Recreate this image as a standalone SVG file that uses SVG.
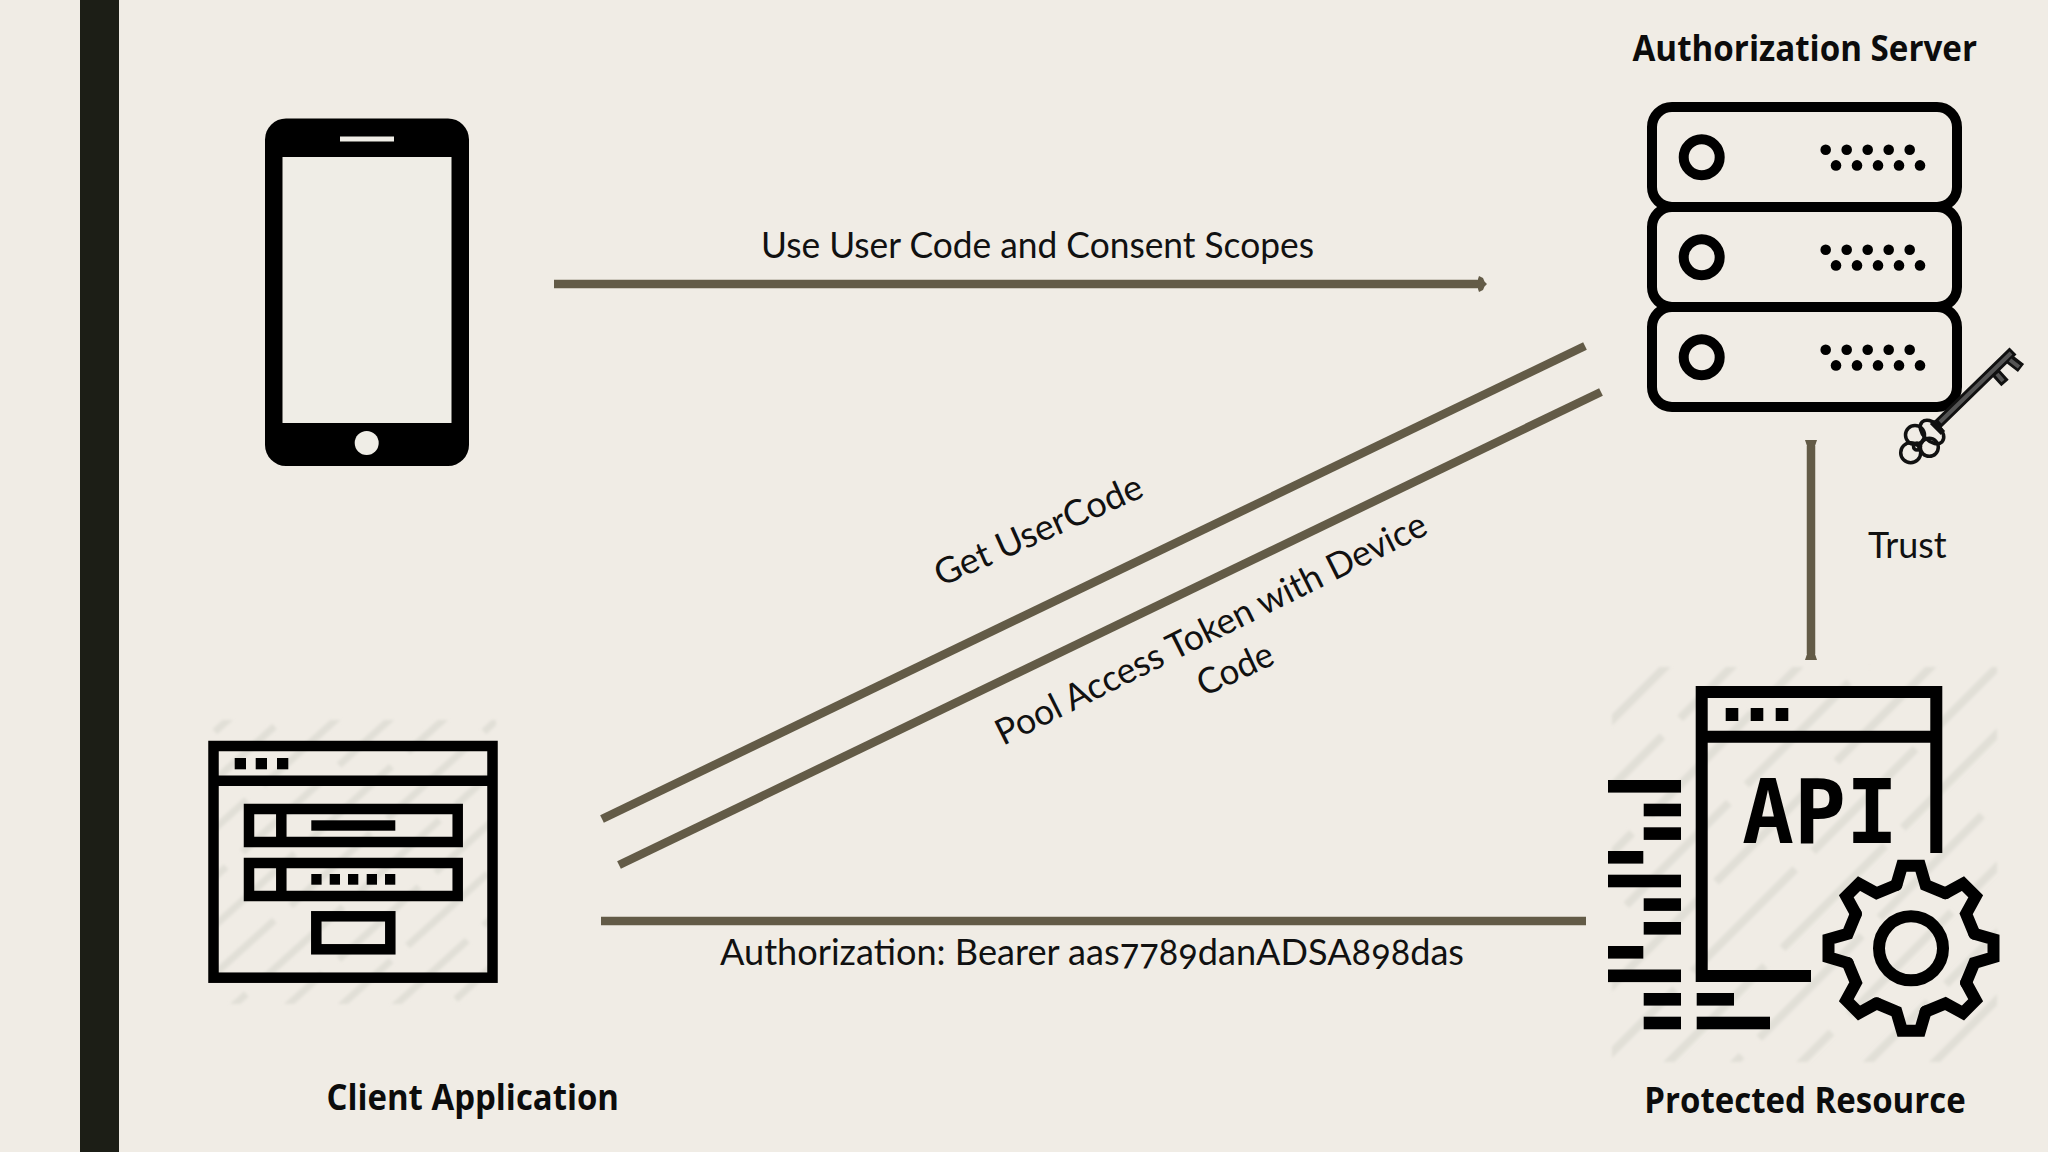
<svg xmlns="http://www.w3.org/2000/svg" width="2048" height="1152" viewBox="0 0 2048 1152">
<defs>
<style>
.frame{fill:none;stroke:#000;stroke-width:10.5;stroke-linejoin:miter}
.sframe{fill:none;stroke:#000;stroke-width:10}
.ring{fill:none;stroke:#000;stroke-width:10}
.conn{fill:none;stroke:#635b47;stroke-width:8.5}
.lbl{font-family:"Lato","Open Sans",sans-serif;font-size:36px;fill:#111;font-variant-numeric:oldstyle-nums}
.ttl{font-family:"Open Sans","Noto Sans",sans-serif;font-size:35px;font-weight:700;fill:#0c0c0c}
.kb{fill:none;stroke:#111;stroke-width:3.5}
</style>
<pattern id="hatchA" width="130" height="72" patternUnits="userSpaceOnUse" patternTransform="rotate(-42)">
<rect x="0" y="0" width="108" height="7" fill="#e1dfd7"/><rect x="60" y="36" width="108" height="7" fill="#e1dfd7"/><rect x="-70" y="36" width="108" height="7" fill="#e1dfd7"/>
</pattern>
<pattern id="hatchB" width="170" height="94" patternUnits="userSpaceOnUse" patternTransform="rotate(-45)">
<rect x="0" y="0" width="145" height="8" fill="#e1dfd7"/><rect x="80" y="47" width="145" height="8" fill="#e1dfd7"/><rect x="-90" y="47" width="145" height="8" fill="#e1dfd7"/>
</pattern>
<filter id="soft" x="-5%" y="-5%" width="110%" height="110%"><feGaussianBlur stdDeviation="1.6"/></filter>
<marker id="star" markerUnits="userSpaceOnUse" markerWidth="14" markerHeight="20" refX="2" refY="10" orient="auto"><path d="M0,5 L1,2 L5,4 L6.5,7.5 L9,10 L6.5,12.5 L5,16 L1,18 L0,15Z" fill="#635b47"/></marker>
<marker id="cap" markerUnits="userSpaceOnUse" markerWidth="14" markerHeight="14" refX="7" refY="7" orient="auto-start-reverse"><path d="M7,3 L13,1 L13,13 L7,11Z" fill="#635b47"/></marker>
<g id="dots"><circle cx="0" cy="0" r="5.3"/><circle cx="21" cy="0" r="5.3"/><circle cx="42" cy="0" r="5.3"/><circle cx="63" cy="0" r="5.3"/><circle cx="84" cy="0" r="5.3"/><circle cx="10.3" cy="15.7" r="5.3"/><circle cx="31.3" cy="15.7" r="5.3"/><circle cx="52.3" cy="15.7" r="5.3"/><circle cx="73.3" cy="15.7" r="5.3"/><circle cx="94.3" cy="15.7" r="5.3"/></g>
<path id="tooth" d="M-14.6,-63.3 L-9,-82.5 L9,-82.5 L14.6,-63.3 L34.4,-55.1" fill="none" stroke="#000" stroke-width="12" stroke-linecap="round"/>
</defs>
<rect width="2048" height="1152" fill="#f0ece5"/>
<rect x="80" y="0" width="39" height="1152" fill="#1c1e16"/>

<g id="phone">
<rect x="265" y="118.5" width="204" height="347.5" rx="21" fill="#000"/>
<rect x="282.5" y="157" width="169" height="266" fill="#efede6"/>
<rect x="340" y="136.5" width="54" height="5" fill="#efede6"/>
<circle cx="366.7" cy="443" r="12" fill="#efede6"/>
</g>

<g id="server">
<rect x="1652" y="107" width="305" height="100" rx="20" class="sframe"/>
<rect x="1652" y="207" width="305" height="100" rx="20" class="sframe"/>
<rect x="1652" y="307" width="305" height="100" rx="20" class="sframe"/>
<circle cx="1701.7" cy="157.3" r="18" class="ring"/>
<circle cx="1701.7" cy="257.3" r="18" class="ring"/>
<circle cx="1701.7" cy="357.3" r="18" class="ring"/>
<use href="#dots" x="1825.7" y="149.7"/>
<use href="#dots" x="1825.7" y="249.7"/>
<use href="#dots" x="1825.7" y="349.7"/>
<text class="ttl" x="1632.5" y="60.7" textLength="344.5" lengthAdjust="spacingAndGlyphs">Authorization Server</text>
</g>

<g id="key">
<path d="M1938,424 L2013,351 M1995,372 L2005,383 M2008,358 L2021,368" fill="none" stroke="#111" stroke-width="10"/>
<path d="M1940,422 L2011,353 M1997,374 L2003,381 M2010,360 L2019,367" fill="none" stroke="#555" stroke-width="4"/>
<ellipse cx="1932" cy="432" rx="14" ry="9" transform="rotate(45 1932 432)" fill="#f0ece5" stroke="#111" stroke-width="3.5"/>
<path d="M1932,422 L1943,433" fill="none" stroke="#111" stroke-width="6"/>
<circle cx="1915" cy="435" r="9.5" class="kb"/>
<circle cx="1910.7" cy="452.7" r="10" class="kb"/>
<circle cx="1929.3" cy="447.3" r="9" class="kb"/>
<circle cx="1917" cy="446.5" r="3.5" class="kb" stroke-width="2"/>
</g>

<g id="client">
<rect x="212" y="720" width="284" height="284" fill="url(#hatchA)" filter="url(#soft)"/>
<rect x="213.5" y="746" width="279" height="231.7" class="frame"/>
<path d="M213.7,780.7H492.7" class="frame"/>
<rect x="234.7" y="758" width="11.3" height="11.3"/><rect x="255.7" y="758" width="11.3" height="11.3"/><rect x="277" y="758" width="11.3" height="11.3"/>
<rect x="249" y="809" width="208.7" height="33" class="frame"/>
<path d="M281.3,809V842" class="frame"/>
<rect x="311.3" y="820.3" width="84" height="10.4"/>
<rect x="249" y="863" width="208.7" height="33" class="frame"/>
<path d="M281.3,863V896" class="frame"/>
<rect x="311.3" y="874" width="10.3" height="10.7"/><rect x="329.7" y="874" width="10.3" height="10.7"/><rect x="348" y="874" width="10.3" height="10.7"/><rect x="366.7" y="874" width="10.3" height="10.7"/><rect x="385" y="874" width="10.3" height="10.7"/>
<rect x="316.3" y="916.3" width="74" height="33" class="frame"/>
<text class="ttl" x="326.5" y="1109.5" textLength="292.5" lengthAdjust="spacingAndGlyphs">Client Application</text>
</g>

<g id="resource">
<rect x="1612" y="667" width="385" height="395" fill="url(#hatchB)" filter="url(#soft)"/>
<path d="M1811,976H1701.7V692H1936.3V853M1701.7,736.7H1936.3" fill="none" stroke="#000" stroke-width="12"/>
<rect x="1725.7" y="708" width="12.6" height="13"/><rect x="1750.7" y="708" width="12.6" height="13"/><rect x="1775.7" y="708" width="12.6" height="13"/>
<text x="1742" y="843" font-family="'DejaVu Sans Mono',monospace" font-weight="700" font-size="89" textLength="156" lengthAdjust="spacingAndGlyphs">API</text>
<g fill="#000">
<rect x="1608" y="780" width="73" height="12.6"/><rect x="1643.7" y="803.7" width="37.3" height="12.6"/><rect x="1643.7" y="827.3" width="37.3" height="12.6"/><rect x="1608" y="851" width="35.3" height="12.6"/>
<rect x="1608" y="874.7" width="73" height="12.6"/><rect x="1643.7" y="898.3" width="37.3" height="12.6"/><rect x="1643.7" y="922" width="37.3" height="12.6"/><rect x="1608" y="946" width="35.3" height="12.6"/>
<rect x="1608" y="969.5" width="73" height="12.6"/><rect x="1643.7" y="993" width="37.3" height="12.6"/><rect x="1643.7" y="1016.7" width="37.3" height="12.6"/>
<rect x="1696.7" y="993" width="37.3" height="12.6"/><rect x="1696.7" y="1016.7" width="73.3" height="12.6"/>
</g>
<g transform="translate(1911 948.3)">
<use href="#tooth"/><use href="#tooth" transform="rotate(45)"/><use href="#tooth" transform="rotate(90)"/><use href="#tooth" transform="rotate(135)"/><use href="#tooth" transform="rotate(180)"/><use href="#tooth" transform="rotate(225)"/><use href="#tooth" transform="rotate(270)"/><use href="#tooth" transform="rotate(315)"/>
<circle r="32" fill="none" stroke="#000" stroke-width="12"/>
</g>
<text class="ttl" x="1644.3" y="1112.5" textLength="321.4" lengthAdjust="spacingAndGlyphs">Protected Resource</text>
</g>

<g id="connectors">
<path class="conn" d="M554,284H1480" marker-end="url(#star)"/>
<path class="conn" d="M602,819L1585,346"/>
<path class="conn" d="M619,865L1601,392"/>
<path class="conn" d="M601,921H1586"/>
<path class="conn" d="M1811,446V654" marker-start="url(#cap)" marker-end="url(#cap)"/>
<text class="lbl" x="761" y="258" textLength="553" lengthAdjust="spacingAndGlyphs">Use User Code and Consent Scopes</text>
<text class="lbl" x="720" y="964.5" textLength="744" lengthAdjust="spacingAndGlyphs">Authorization: Bearer aas7789danADSA898das</text>
<text class="lbl" x="1868" y="558" textLength="78.7" lengthAdjust="spacingAndGlyphs">Trust</text>
<text class="lbl" transform="translate(941 587) rotate(-24)" textLength="224" lengthAdjust="spacingAndGlyphs">Get UserCode</text>
<text class="lbl" transform="translate(1003 746) rotate(-26.5)" textLength="477" lengthAdjust="spacingAndGlyphs">Pool Access Token with Device</text>
<text class="lbl" transform="translate(1204 697) rotate(-25)" textLength="80" lengthAdjust="spacingAndGlyphs">Code</text>
</g>
</svg>
